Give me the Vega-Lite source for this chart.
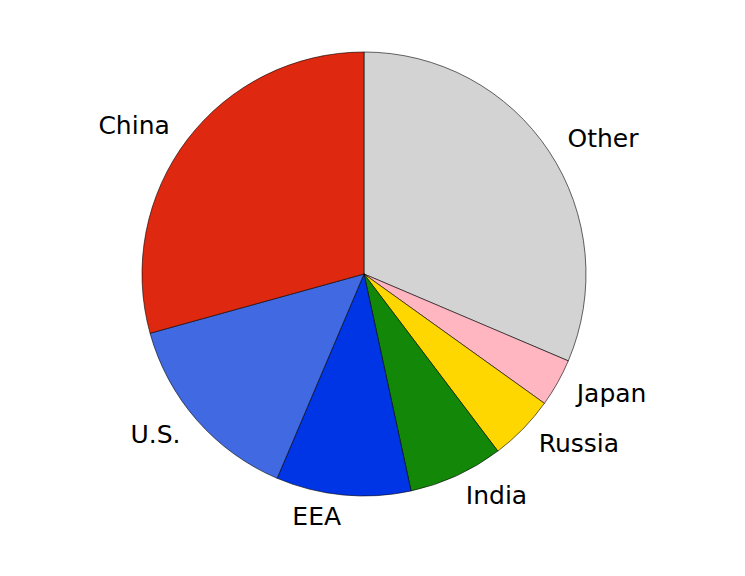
{
  "$schema": "https://vega.github.io/schema/vega-lite/v6.json",
  "autosize": "none",
  "width": 728,
  "height": 548,
  "padding": {"left": 0, "top": 0, "right": 0, "bottom": 0},
  "background": "white",
  "config": {"view": {"stroke": null}},
  "data": {
    "values": [
      {"country": "Other", "share": 31.4, "rank": 1},
      {"country": "Japan", "share": 3.5, "rank": 2},
      {"country": "Russia", "share": 4.8, "rank": 3},
      {"country": "India", "share": 6.9, "rank": 4},
      {"country": "EEA", "share": 9.8, "rank": 5},
      {"country": "U.S.", "share": 14.3, "rank": 6},
      {"country": "China", "share": 29.3, "rank": 7}
    ]
  },
  "encoding": {
    "theta": {"field": "share", "type": "quantitative", "stack": true},
    "order": {"field": "rank", "type": "quantitative"}
  },
  "layer": [
    {
      "mark": {"type": "arc", "outerRadius": 222, "stroke": "#000000", "strokeWidth": 0.6},
      "encoding": {
        "color": {
          "field": "country",
          "type": "nominal",
          "legend": null,
          "scale": {
            "domain": ["Other", "Japan", "Russia", "India", "EEA", "U.S.", "China"],
            "range": ["#d3d3d3", "#ffb6c1", "#ffd700", "#138808", "#0035e6", "#4169e1", "#de2910"]
          }
        }
      }
    },
    {
      "mark": {
        "type": "text",
        "radius": 244,
        "font": "DejaVu Sans",
        "fontSize": 25,
        "color": "#000000",
        "baseline": "middle",
        "align": {"expr": "(datum.share_start + datum.share_end) / 2 > 50 ? 'right' : 'left'"}
      },
      "encoding": {
        "text": {"field": "country", "type": "nominal"}
      }
    }
  ]
}
